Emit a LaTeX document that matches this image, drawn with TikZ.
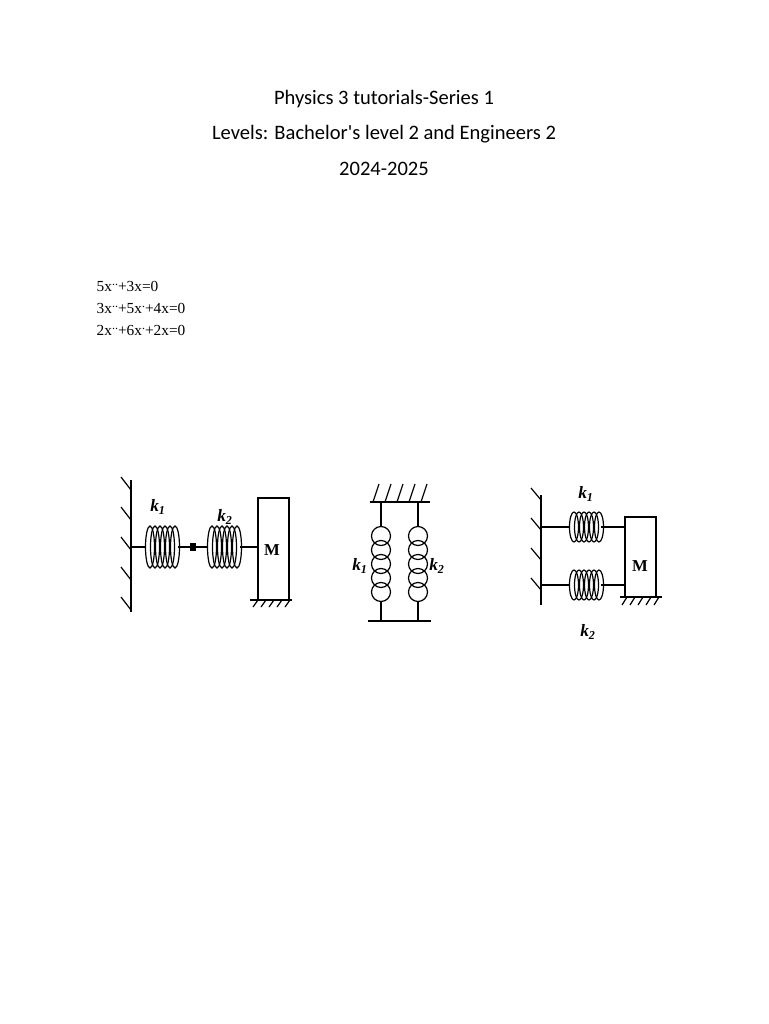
\documentclass[tikz,border=0pt]{standalone}
\usepackage{fontspec}
\setmainfont{Liberation Serif}
\newfontfamily\calfont{Carlito}
\begin{document}
\begin{tikzpicture}[x=0.75pt,y=-0.75pt,
  ln/.style={line width=0.9pt},
  coil/.style={line width=0.9pt},
  lbl/.style={font=\bfseries\itshape\fontsize{13}{14}\selectfont},
  mass/.style={font=\bfseries\fontsize{12.5}{14}\selectfont},
  ttl/.style={font=\calfont\fontsize{15.4}{17}\selectfont},
  eq/.style={font=\fontsize{11.5}{13}\selectfont,anchor=west}]
\useasboundingbox (0,0) rectangle (768,1024);
\newcommand\dd{\raisebox{0.8ex}{\small ..}}
\newcommand\sd{\raisebox{0.8ex}{\small .}}
\node[ttl] (t1) at (384,99) {Physics 3 tutorials-Series 1};
\node[ttl] (t2) at (384,134) {Levels: Bachelor's level 2 and Engineers 2};
\node[ttl] (t3) at (384,169) {2024-2025};
\node[eq] (e1) at (92,286) {5x\dd+3x=0};
\node[eq] (e2) at (92,308) {3x\dd+5x\sd+4x=0};
\node[eq] (e3) at (92,330) {2x\dd+6x\sd+2x=0};
% ---------- figure 1
\draw[ln] (131,480) -- (131,612);
\foreach \y in {490,520,550,580,610} \draw[ln] (131,\y) -- (121,\y-13);
\draw[ln] (131,547) -- (145,547);
\foreach \i in {0,...,5} \draw[coil] (150+\i*5,547) ellipse (4.5 and 21);
\draw[ln] (178,547) -- (207,547);
\fill (190,543) rectangle (196,551);
\foreach \i in {0,...,5} \draw[coil] (212+\i*5,547) ellipse (4.5 and 21);
\draw[ln] (240,547) -- (258,547);
\draw[ln] (258,600) -- (258,498) -- (289,498) -- (289,600);
\draw[line width=1.8pt] (258,498) -- (289,498);
\draw[ln] (250,600) -- (292,600);
\foreach \x in {258,266,274,282,290} \draw[ln] (\x,600) -- (\x-5,607);
\node[lbl] (k1a) at (158,507) {k\textsubscript{1}};
\node[lbl] (k2a) at (225,517) {k\textsubscript{2}};
\node[mass] (Ma) at (272,550) {M};
% ---------- figure 2
\draw[ln] (370,502) -- (430,502);
\foreach \x in {373,385,397,409,421} \draw[ln] (\x,502) -- (\x+6,484);
\foreach \cx in {381,418}{
  \draw[ln] (\cx,502) -- (\cx,527);
  \foreach \i in {0,...,4} \draw[coil] (\cx,536+\i*14) circle (9.5);
  \draw[ln] (\cx,602) -- (\cx,621);
}
\draw[line width=2.2pt] (368,621) -- (431,621);
\node[lbl] (k1b) at (360,566) {k\textsubscript{1}};
\node[lbl] (k2b) at (437,566) {k\textsubscript{2}};
% ---------- figure 3
\draw[ln] (541,495) -- (541,605);
\foreach \y in {500,530,560,590} \draw[ln] (541,\y) -- (531,\y-12);
\foreach \yy in {527,585}{
  \draw[ln] (541,\yy) -- (570,\yy);
  \foreach \i in {0,...,5} \draw[coil] (574+\i*5,\yy) ellipse (4.5 and 15);
  \draw[ln] (601,\yy) -- (625,\yy);
}
\draw[ln] (625,517) rectangle (656,597);
\draw[line width=1.6pt] (625,517) -- (656,517);
\draw[ln] (620,597) -- (662,597);
\foreach \x in {627,635,643,651,659} \draw[ln] (\x,597) -- (\x-5,605);
\node[lbl] (k1c) at (586,494) {k\textsubscript{1}};
\node[lbl] (k2c) at (588,632) {k\textsubscript{2}};
\node[mass] (Mc) at (640,566) {M};
\end{tikzpicture}
\end{document}
